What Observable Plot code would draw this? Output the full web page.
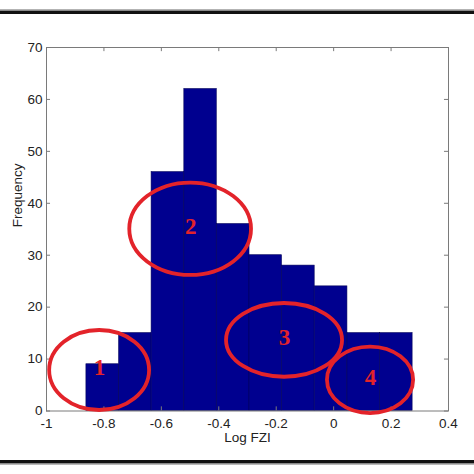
<!DOCTYPE html>
<html>
<head>
<meta charset="utf-8">
<script src="https://cdn.jsdelivr.net/npm/d3@7"></script>
<script src="https://cdn.jsdelivr.net/npm/@observablehq/plot@0.6"></script>
<style>
  html, body { margin: 0; padding: 0; background: #fff; }
  #wrap { position: relative; width: 474px; height: 474px; overflow: hidden; }
  .rule { position: absolute; left: 0; width: 474px; }
  #topline { top: 9px; height: 5px; background: linear-gradient(#c8c8c8 0%, #8a8a8a 30%, #111 45%, #111 100%); }
  #botline { top: 460px; height: 5px; background: linear-gradient(#111 0%, #111 55%, #8a8a8a 70%, #d0d0d0 100%); }
</style>
</head>
<body>
<div id="wrap">
  <div id="chart"></div>
  <div id="topline" class="rule"></div>
  <div id="botline" class="rule"></div>
</div>
<script>
// Histogram bins (Log FZI) and frequencies
const binEdges = [-0.861, -0.747, -0.634, -0.520, -0.407, -0.293, -0.180, -0.066, 0.048, 0.161, 0.275];
const counts = [9, 15, 46, 62, 36, 30, 28, 24, 15, 15];

// Axis ticks
const xTicks = [-1, -0.8, -0.6, -0.4, -0.2, 0, 0.2, 0.4];
const xTickLabels = ["-1", "-0.8", "-0.6", "-0.4", "-0.2", "0", "0.2", "0.4"];
const yTicks = [0, 10, 20, 30, 40, 50, 60, 70];

// Annotation ellipses (data units)
const ellipseLabels = ["1", "2", "3", "4"];
const ellipseCx = [-0.815, -0.498, -0.171, 0.1285];
const ellipseCy = [7.8, 35.0, 13.6, 5.9];
const ellipseRx = [0.174, 0.212, 0.202, 0.150];
const ellipseRy = [7.7, 8.9, 7.1, 6.4];

const bars = counts.map((c, i) => ({x1: binEdges[i], x2: binEdges[i + 1], y: c}));
const ellipses = ellipseLabels.map((l, i) => ({label: l, cx: ellipseCx[i], cy: ellipseCy[i], rx: ellipseRx[i], ry: ellipseRy[i]}));

const red = "#e3232a";
const axisGray = "#7a7a7a";

function ellipseMark(index, scales) {
  const sx = scales.x, sy = scales.y;
  const g = d3.create("svg:g");
  for (const e of ellipses) {
    const cx = sx(e.cx), cy = sy(e.cy);
    const rx = Math.abs(sx(e.cx + e.rx) - cx);
    const ry = Math.abs(sy(e.cy + e.ry) - cy);
    g.append("ellipse")
      .attr("cx", cx).attr("cy", cy).attr("rx", rx).attr("ry", ry)
      .attr("fill", "none").attr("stroke", red).attr("stroke-width", 3.8);
  }
  return g.node();
}

const chart = Plot.plot({
  width: 474,
  height: 474,
  marginLeft: 46,
  marginRight: 26,
  marginTop: 47,
  marginBottom: 63.5,
  style: {fontFamily: "'Liberation Sans', Arial, sans-serif", fontSize: "13.5px", color: "#222", background: "transparent"},
  x: {domain: [-1, 0.4]},
  y: {domain: [0, 70]},
  marks: [
    Plot.rectY(bars, {x1: "x1", x2: "x2", y: "y", fill: "#00008f", stroke: "#00005a", strokeWidth: 0.6}),
    Plot.frame({stroke: axisGray}),
    // inward ticks
    Plot.ruleX(xTicks, {x: d => d, y1: 0, y2: 0.8, stroke: axisGray}),
    Plot.ruleX(xTicks, {x: d => d, y1: 69.2, y2: 70, stroke: axisGray}),
    Plot.ruleY(yTicks, {y: d => d, x1: -1, x2: -0.986, stroke: axisGray}),
    Plot.ruleY(yTicks, {y: d => d, x1: 0.386, x2: 0.4, stroke: axisGray}),
    Plot.axisX(xTicks, {tickSize: 0, tickPadding: 7.5, tickFormat: d => xTickLabels[xTicks.indexOf(d)], label: null, fill: "#222", fontSize: 13.5}),
    Plot.axisY(yTicks, {tickSize: 0, tickPadding: 4, tickFormat: d => String(d), label: null, fill: "#222", fontSize: 13.5}),
    Plot.text(["Log FZI"], {frameAnchor: "bottom", dy: 30.5, text: d => d, fill: "#222", fontSize: 13.5}),
    Plot.text(["Frequency"], {frameAnchor: "left", dx: -29, dy: -2, rotate: -90, text: d => d, fill: "#222", fontSize: 13.5}),
    ellipseMark,
    Plot.text(ellipses, {x: "cx", y: "cy", dy: -3, text: "label", fill: red, fontSize: 23, fontWeight: "bold", fontFamily: "'Liberation Serif', 'Times New Roman', serif"})
  ]
});
document.getElementById("chart").appendChild(chart);
</script>
</body>
</html>
